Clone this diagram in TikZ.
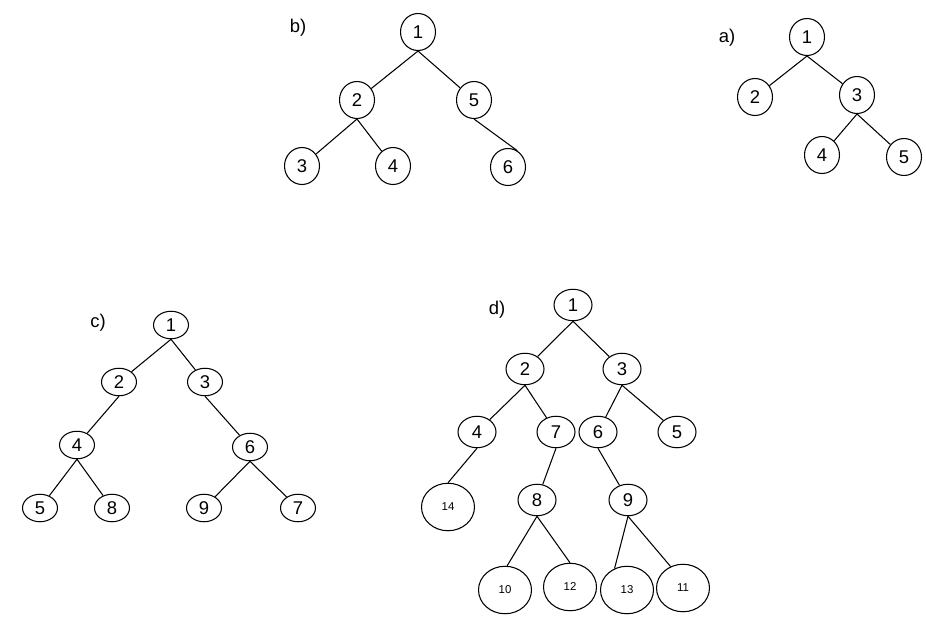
\documentclass[tikz,border=0pt]{standalone}
\usepackage{fontspec}
\setmainfont{Liberation Sans}
\usetikzlibrary{shapes.geometric}

\begin{document}
\begin{tikzpicture}[x=0.02cm, y=-0.02cm,
    vertex/.style={ellipse, draw=black, line width=0.6pt, fill=white,
        minimum width=0.7cm, minimum height=0.74cm, inner sep=0pt,
        font=\fontsize{10.5}{12}\selectfont},
    flat/.style={vertex, minimum height=0.55cm},
    mid/.style={vertex, minimum width=0.76cm, minimum height=0.63cm},
    big/.style={vertex, minimum width=1.06cm, minimum height=0.95cm,
        font=\fontsize{6.5}{8}\selectfont},
    tag/.style={font=\fontsize{10.5}{12}\selectfont},
    edge/.style={line width=0.6pt, -}
]
    \useasboundingbox (0,0) rectangle (926,619);
    % tree b
    \node[tag] (tb) at (298,28) {b)};
    \node[vertex] (b1) at (418,32) {1};
    \node[vertex] (b2) at (357,100) {2};
    \node[vertex] (b5) at (474,100) {5};
    \node[vertex] (b3) at (302,166) {3};
    \node[vertex] (b4) at (393,166) {4};
    \node[vertex] (b6) at (508,167) {6};
    \draw[edge] (b1.south) -- (b2);
    \draw[edge] (b1.south) -- (b5);
    \draw[edge] (b2.south) -- (b3);
    \draw[edge] (b2.south) -- (b4);
    \draw[edge] (b5.south) -- (b6.60);
    % tree a
    \node[tag] (ta) at (727,38) {a)};
    \node[vertex] (a1) at (807,37) {1};
    \node[vertex] (a2) at (755,97) {2};
    \node[vertex] (a3) at (857,95) {3};
    \node[vertex] (a4) at (822,155) {4};
    \node[vertex] (a5) at (904,157) {5};
    \draw[edge] (a1.south) -- (a2);
    \draw[edge] (a1.south) -- (a3);
    \draw[edge] (a3.south) -- (a4);
    \draw[edge] (a3.south) -- (a5);
    % tree c
    \node[tag] (tc) at (98,323) {c)};
    \node[flat] (c1) at (171,325) {1};
    \node[flat] (c2) at (119,382) {2};
    \node[flat] (c3) at (205,382) {3};
    \node[flat] (c4) at (77,445) {4};
    \node[flat] (c6) at (250,447) {6};
    \node[flat] (c5) at (40,508) {5};
    \node[flat] (c8) at (112,508) {8};
    \node[flat] (c9) at (204,508) {9};
    \node[flat] (c7) at (298,508) {7};
    \draw[edge] (c1.south) -- (c2);
    \draw[edge] (c1.south) -- (c3);
    \draw[edge] (c2.south) -- (c4);
    \draw[edge] (c3.south) -- (c6);
    \draw[edge] (c4.south) -- (c5);
    \draw[edge] (c4.south) -- (c8);
    \draw[edge] (c6.south) -- (c9);
    \draw[edge] (c6.south) -- (c7);
    % tree d
    \node[tag] (td) at (497,310) {d)};
    \node[mid] (d1) at (573,305) {1};
    \node[mid] (d2) at (525,369) {2};
    \node[mid] (d3) at (622,369) {3};
    \node[mid] (d4) at (477,432) {4};
    \node[mid] (d7) at (556,432) {7};
    \node[mid] (d6) at (598,432) {6};
    \node[mid] (d5) at (677,432) {5};
    \node[big] (d14) at (448,507) {14};
    \node[mid] (d8) at (537,500) {8};
    \node[mid] (d9) at (628,500) {9};
    \node[big] (d10) at (505,590) {10};
    \node[big] (d12) at (570,587) {12};
    \node[big] (d13) at (627,590) {13};
    \node[big] (d11) at (683,588) {11};
    \draw[edge] (d1.south) -- (d2);
    \draw[edge] (d1.south) -- (d3);
    \draw[edge] (d2.south) -- (d4);
    \draw[edge] (d2.south) -- (d7);
    \draw[edge] (d3.south) -- (d6);
    \draw[edge] (d3.south) -- (d5);
    \draw[edge] (d4.south) -- (d14.north);
    \draw[edge] (d7.south) -- (d8);
    \draw[edge] (d6.south) -- (d9);
    \draw[edge] (d8.south) -- (d10.85);
    \draw[edge] (d8.south) -- (d12.north);
    \draw[edge] (d9.south) -- (d13.120);
    \draw[edge] (d9.south) -- (d11.120);
\end{tikzpicture}
\end{document}
